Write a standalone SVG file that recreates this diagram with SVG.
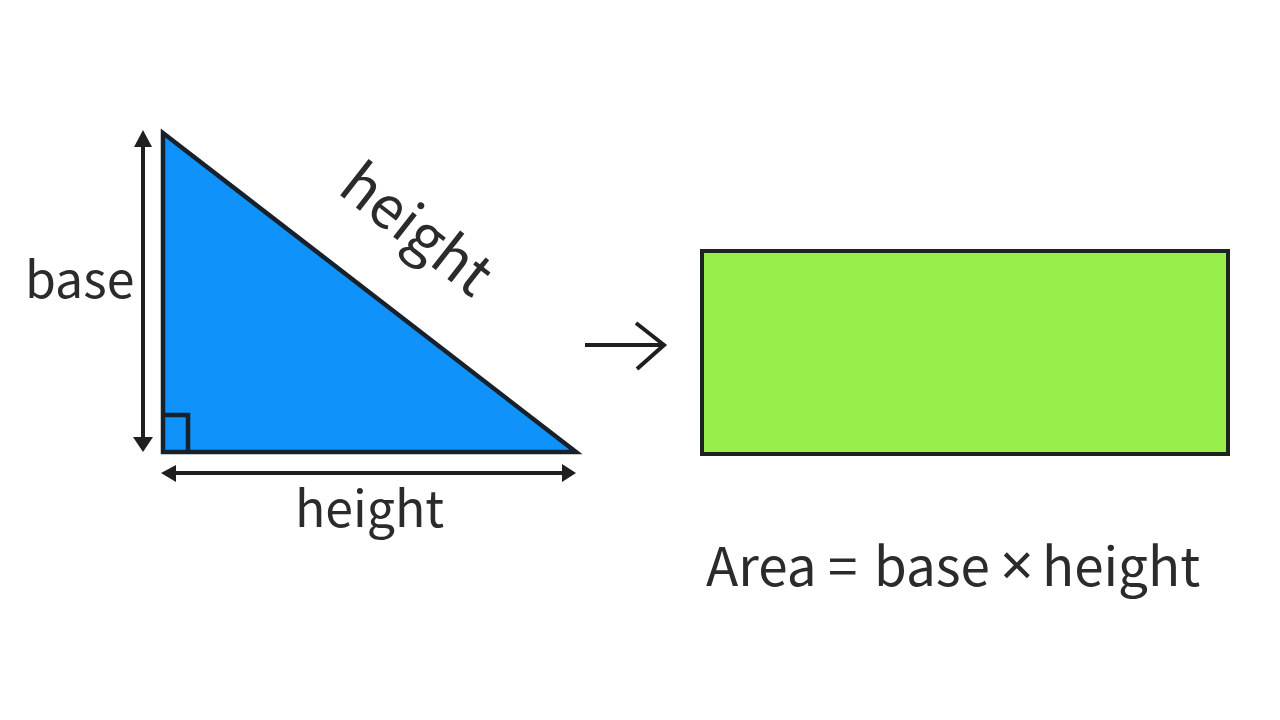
<svg xmlns="http://www.w3.org/2000/svg" width="1280" height="720" viewBox="0 0 1280 720">
<style>
text{font-family:"Noto Sans CJK SC","Noto Sans",sans-serif;fill:#2b2b2b}
.l{font-size:50px}
.r{font-size:58px}
.a{font-size:53px}
.x{font-family:"Noto Sans",sans-serif;font-size:59px}
.dim{fill:none;stroke:#1f1f1f;stroke-width:4}
.head{fill:#1f1f1f}
</style>
<rect width="1280" height="720" fill="#fff"/>
<g id="triangle"><path d="M163 133V452H576Z" fill="#0f93fb" stroke="#16212c" stroke-width="4.5" stroke-linejoin="miter"/>
<path d="M163 415H188V452" fill="none" stroke="#16212c" stroke-width="4.5"/></g>
<g id="rectangle"><rect x="702" y="251" width="526" height="203" fill="#98ef4b" stroke="#1c2420" stroke-width="4"/></g>
<g id="connectors">
<path class="dim" d="M143 142V442"/>
<path class="head" d="M143 130L152 147H134ZM143 452L133 437H153Z"/>
<path class="dim" d="M172 473H566"/>
<path class="head" d="M161 473L176 465V482ZM576 473L562 464V482Z"/>
<path class="dim" d="M585 345H662M636 323L664 345L637 369"/>
</g>
<g id="labels">
<text class="l" x="25" y="298">base</text>
<text class="l" x="295" y="527">height</text>
<text class="r" transform="translate(336 192) rotate(38)">height</text>
<text class="a" y="586"><tspan x="706">Area</tspan><tspan x="828">=</tspan><tspan x="874">base</tspan><tspan class="x" x="1000">×</tspan><tspan x="1042">height</tspan></text>
</g>
</svg>
